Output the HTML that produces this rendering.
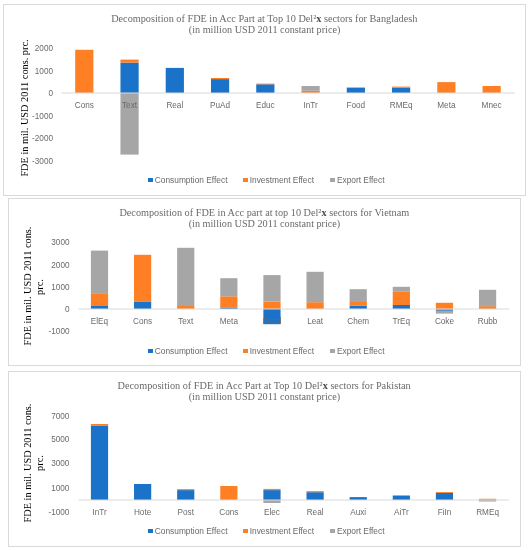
<!DOCTYPE html><html><head><meta charset="utf-8"><style>
*{margin:0;padding:0;box-sizing:border-box}
html,body{width:530px;height:550px;background:#fff;overflow:hidden;position:relative}
svg{position:absolute}
#wrap{left:0;top:0;width:530px;height:550px;filter:blur(0.45px)}
div{position:absolute}
.box{border:1px solid #d9d9d9}
.ttl{width:500px;text-align:center;font-family:"Liberation Serif",serif;font-size:10px;line-height:14px;color:#6a6a6a;white-space:nowrap}
.ttl sup{font-size:6.5px;vertical-align:0;position:relative;top:-3px}
.ttl b{color:#4a4a4a}
.yt{width:200px;text-align:center;font-family:"Liberation Serif",serif;font-size:10.3px;line-height:14px;color:#000;white-space:nowrap;transform:rotate(-90deg)}
.tk{width:60px;text-align:right;font-family:"Liberation Sans",sans-serif;font-size:8.2px;line-height:12px;color:#6a6a6a;white-space:nowrap}
.cat{width:60px;text-align:center;font-family:"Liberation Sans",sans-serif;font-size:8.2px;line-height:12px;color:#6a6a6a;white-space:nowrap}
.bar{}
.axl{height:1px;background:#d9d9d9}
.lsq{width:4.6px;height:4.6px}
.ltx{font-family:"Liberation Sans",sans-serif;font-size:8.35px;line-height:12px;color:#6a6a6a;white-space:nowrap}
</style></head><body><div id="wrap">
<svg style="position:absolute;left:0;top:0" width="530" height="550" viewBox="0 0 530 550"><rect x="75.20" y="49.80" width="18.20" height="43.20" fill="#fe7f24"/><rect x="120.46" y="62.60" width="18.20" height="30.40" fill="#1a73c8"/><rect x="120.46" y="59.60" width="18.20" height="3.00" fill="#fe7f24"/><rect x="120.46" y="93.00" width="18.20" height="61.60" fill="#a6a6a6"/><rect x="165.72" y="67.90" width="18.20" height="25.10" fill="#1a73c8"/><rect x="210.98" y="79.10" width="18.20" height="13.90" fill="#1a73c8"/><rect x="210.98" y="78.00" width="18.20" height="1.10" fill="#fe7f24"/><rect x="256.24" y="84.30" width="18.20" height="8.70" fill="#1a73c8"/><rect x="256.24" y="83.60" width="18.20" height="0.70" fill="#fe7f24"/><rect x="301.50" y="90.80" width="18.20" height="2.20" fill="#fe7f24"/><rect x="301.50" y="86.00" width="18.20" height="4.80" fill="#a6a6a6"/><rect x="346.76" y="87.90" width="18.20" height="5.10" fill="#1a73c8"/><rect x="346.76" y="87.30" width="18.20" height="0.60" fill="#fe7f24"/><rect x="392.02" y="87.80" width="18.20" height="5.20" fill="#1a73c8"/><rect x="392.02" y="86.60" width="18.20" height="1.20" fill="#fe7f24"/><rect x="437.28" y="82.10" width="18.20" height="10.90" fill="#fe7f24"/><rect x="482.54" y="86.00" width="18.20" height="7.00" fill="#fe7f24"/><rect x="61.5" y="92.5" width="453.5" height="1" fill="#d9d9d9"/><rect x="90.90" y="306.00" width="17.20" height="3.00" fill="#1a73c8"/><rect x="90.90" y="293.90" width="17.20" height="12.10" fill="#fe7f24"/><rect x="90.90" y="250.60" width="17.20" height="43.30" fill="#a6a6a6"/><rect x="134.02" y="301.90" width="17.20" height="7.10" fill="#1a73c8"/><rect x="134.02" y="254.80" width="17.20" height="47.10" fill="#fe7f24"/><rect x="177.14" y="306.00" width="17.20" height="3.00" fill="#fe7f24"/><rect x="177.14" y="247.80" width="17.20" height="58.20" fill="#a6a6a6"/><rect x="220.26" y="307.50" width="17.20" height="1.50" fill="#1a73c8"/><rect x="220.26" y="296.30" width="17.20" height="11.20" fill="#fe7f24"/><rect x="220.26" y="278.20" width="17.20" height="18.10" fill="#a6a6a6"/><rect x="263.38" y="309.00" width="17.20" height="15.20" fill="#1a73c8"/><rect x="263.38" y="301.50" width="17.20" height="7.50" fill="#fe7f24"/><rect x="263.38" y="275.10" width="17.20" height="26.40" fill="#a6a6a6"/><rect x="306.50" y="302.20" width="17.20" height="6.80" fill="#fe7f24"/><rect x="306.50" y="271.80" width="17.20" height="30.40" fill="#a6a6a6"/><rect x="349.62" y="305.80" width="17.20" height="3.20" fill="#1a73c8"/><rect x="349.62" y="302.00" width="17.20" height="3.80" fill="#fe7f24"/><rect x="349.62" y="289.20" width="17.20" height="12.80" fill="#a6a6a6"/><rect x="392.74" y="305.00" width="17.20" height="4.00" fill="#1a73c8"/><rect x="392.74" y="291.80" width="17.20" height="13.20" fill="#fe7f24"/><rect x="392.74" y="286.80" width="17.20" height="5.00" fill="#a6a6a6"/><rect x="435.86" y="302.80" width="17.20" height="6.20" fill="#fe7f24"/><rect x="435.86" y="309.30" width="17.20" height="1.50" fill="#1a73c8"/><rect x="435.86" y="310.80" width="17.20" height="2.80" fill="#a6a6a6"/><rect x="478.98" y="306.20" width="17.20" height="2.80" fill="#fe7f24"/><rect x="478.98" y="289.80" width="17.20" height="16.40" fill="#a6a6a6"/><rect x="78.5" y="308.5" width="430.5" height="1" fill="#d9d9d9"/><rect x="90.90" y="425.50" width="17.20" height="74.50" fill="#1a73c8"/><rect x="90.90" y="424.00" width="17.20" height="1.50" fill="#fe7f24"/><rect x="134.02" y="484.00" width="17.20" height="16.00" fill="#1a73c8"/><rect x="177.14" y="490.10" width="17.20" height="9.90" fill="#1a73c8"/><rect x="177.14" y="489.10" width="17.20" height="1.00" fill="#fe7f24"/><rect x="220.26" y="486.00" width="17.20" height="14.00" fill="#fe7f24"/><rect x="263.38" y="490.10" width="17.20" height="9.90" fill="#1a73c8"/><rect x="263.38" y="488.90" width="17.20" height="1.20" fill="#fe7f24"/><rect x="263.38" y="500.00" width="17.20" height="3.00" fill="#a6a6a6"/><rect x="306.50" y="492.20" width="17.20" height="7.80" fill="#1a73c8"/><rect x="306.50" y="491.10" width="17.20" height="1.10" fill="#fe7f24"/><rect x="349.62" y="497.10" width="17.20" height="2.90" fill="#1a73c8"/><rect x="392.74" y="495.50" width="17.20" height="4.50" fill="#1a73c8"/><rect x="435.86" y="492.90" width="17.20" height="7.10" fill="#1a73c8"/><rect x="435.86" y="492.00" width="17.20" height="0.90" fill="#fe7f24"/><rect x="478.98" y="498.80" width="17.20" height="1.20" fill="#fe7f24"/><rect x="478.98" y="500.00" width="17.20" height="1.50" fill="#a6a6a6"/><rect x="78.5" y="499.5" width="430.5" height="1" fill="#d9d9d9"/></svg>
<div class="box" style="left:3px;top:4px;width:523px;height:192px"></div>
<div class="ttl" style="left:14.25px;top:11.600000000000001px;font-size:10.25px;">Decomposition of FDE in Acc Part at Top 10 Del²<b>x</b> sectors for Bangladesh</div>
<div class="ttl" style="left:14.600000000000023px;top:22.6px;font-size:10.2px;">(in million USD 2011 constant price)</div>
<div class="yt" style="left:-75.05px;top:101px">FDE in mil. USD 2011 cons. prc.</div>
<div class="tk" style="left:-7px;top:43px">2000</div>
<div class="tk" style="left:-7px;top:65.5px">1000</div>
<div class="tk" style="left:-7px;top:88px">0</div>
<div class="tk" style="left:-7px;top:110.6px">-1000</div>
<div class="tk" style="left:-7px;top:133px">-2000</div>
<div class="tk" style="left:-7px;top:155.5px">-3000</div>
<div class="cat" style="left:54.3px;top:100.0px">Cons</div>
<div class="cat" style="left:99.56px;top:100.0px">Text</div>
<div class="cat" style="left:144.82px;top:100.0px">Real</div>
<div class="cat" style="left:190.08px;top:100.0px">PuAd</div>
<div class="cat" style="left:235.34000000000003px;top:100.0px">Educ</div>
<div class="cat" style="left:280.6px;top:100.0px">InTr</div>
<div class="cat" style="left:325.86px;top:100.0px">Food</div>
<div class="cat" style="left:371.12px;top:100.0px">RMEq</div>
<div class="cat" style="left:416.38px;top:100.0px">Meta</div>
<div class="cat" style="left:461.64px;top:100.0px">Mnec</div>
<div class="lsq" style="left:148px;top:177.5px;background:#1a73c8"></div>
<div class="ltx" style="left:154.8px;top:173.8px">Consumption Effect</div>
<div class="lsq" style="left:243px;top:177.5px;background:#fe7f24"></div>
<div class="ltx" style="left:249.7px;top:173.8px">Investment Effect</div>
<div class="lsq" style="left:330px;top:177.5px;background:#a6a6a6"></div>
<div class="ltx" style="left:336.9px;top:173.8px">Export Effect</div>
<div class="box" style="left:8px;top:198px;width:513px;height:168px"></div>
<div class="ttl" style="left:14.300000000000011px;top:205.7px;font-size:10.25px;">Decomposition of FDE in Acc part at top 10 Del²<b>x</b> sectors for Vietnam</div>
<div class="ttl" style="left:14.5px;top:217.4px;font-size:10.2px;">(in million USD 2011 constant price)</div>
<div class="yt" style="left:-71.95px;top:279.3px">FDE in mil. USD 2011 cons.</div>
<div class="yt" style="left:-59.9px;top:279.5px">prc.</div>
<div class="tk" style="left:9.5px;top:237.4px">3000</div>
<div class="tk" style="left:9.5px;top:259.9px">2000</div>
<div class="tk" style="left:9.5px;top:282px">1000</div>
<div class="tk" style="left:9.5px;top:303.6px">0</div>
<div class="tk" style="left:9.5px;top:325.7px">-1000</div>
<div class="cat" style="left:69.5px;top:315.5px">ElEq</div>
<div class="cat" style="left:112.62px;top:315.5px">Cons</div>
<div class="cat" style="left:155.73999999999998px;top:315.5px">Text</div>
<div class="cat" style="left:198.85999999999999px;top:315.5px">Meta</div>
<div class="cat" style="left:241.98000000000002px;top:315.5px">Food</div>
<div class="cat" style="left:285.1px;top:315.5px">Leat</div>
<div class="cat" style="left:328.22px;top:315.5px">Chem</div>
<div class="cat" style="left:371.34000000000003px;top:315.5px">TrEq</div>
<div class="cat" style="left:414.46000000000004px;top:315.5px">Coke</div>
<div class="cat" style="left:457.58000000000004px;top:315.5px">Rubb</div>
<div class="lsq" style="left:148px;top:348.7px;background:#1a73c8"></div>
<div class="ltx" style="left:154.8px;top:345px">Consumption Effect</div>
<div class="lsq" style="left:243px;top:348.7px;background:#fe7f24"></div>
<div class="ltx" style="left:249.7px;top:345px">Investment Effect</div>
<div class="lsq" style="left:330px;top:348.7px;background:#a6a6a6"></div>
<div class="ltx" style="left:336.9px;top:345px">Export Effect</div>
<div class="box" style="left:8px;top:371px;width:513px;height:176px"></div>
<div class="ttl" style="left:14.100000000000023px;top:378.8px;font-size:10.25px;">Decomposition of FDE in Acc Part at Top 10 Del²<b>x</b> sectors for Pakistan</div>
<div class="ttl" style="left:14.5px;top:389.6px;font-size:10.2px;">(in million USD 2011 constant price)</div>
<div class="yt" style="left:-71.9px;top:456.05px">FDE in mil. USD 2011 cons.</div>
<div class="yt" style="left:-60.1px;top:456.45px">prc.</div>
<div class="tk" style="left:9.400000000000006px;top:410.5px">7000</div>
<div class="tk" style="left:9.400000000000006px;top:434.3px">5000</div>
<div class="tk" style="left:9.400000000000006px;top:458.4px">3000</div>
<div class="tk" style="left:9.400000000000006px;top:482.7px">1000</div>
<div class="tk" style="left:9.400000000000006px;top:506.9px">-1000</div>
<div class="cat" style="left:69.5px;top:506.90000000000003px">InTr</div>
<div class="cat" style="left:112.62px;top:506.90000000000003px">Hote</div>
<div class="cat" style="left:155.73999999999998px;top:506.90000000000003px">Post</div>
<div class="cat" style="left:198.85999999999999px;top:506.90000000000003px">Cons</div>
<div class="cat" style="left:241.98000000000002px;top:506.90000000000003px">Elec</div>
<div class="cat" style="left:285.1px;top:506.90000000000003px">Real</div>
<div class="cat" style="left:328.22px;top:506.90000000000003px">Auxi</div>
<div class="cat" style="left:371.34000000000003px;top:506.90000000000003px">AiTr</div>
<div class="cat" style="left:414.46000000000004px;top:506.90000000000003px">FiIn</div>
<div class="cat" style="left:457.58000000000004px;top:506.90000000000003px">RMEq</div>
<div class="lsq" style="left:148px;top:528.7px;background:#1a73c8"></div>
<div class="ltx" style="left:154.8px;top:525px">Consumption Effect</div>
<div class="lsq" style="left:243px;top:528.7px;background:#fe7f24"></div>
<div class="ltx" style="left:249.7px;top:525px">Investment Effect</div>
<div class="lsq" style="left:330px;top:528.7px;background:#a6a6a6"></div>
<div class="ltx" style="left:336.9px;top:525px">Export Effect</div>
</div></body></html>
